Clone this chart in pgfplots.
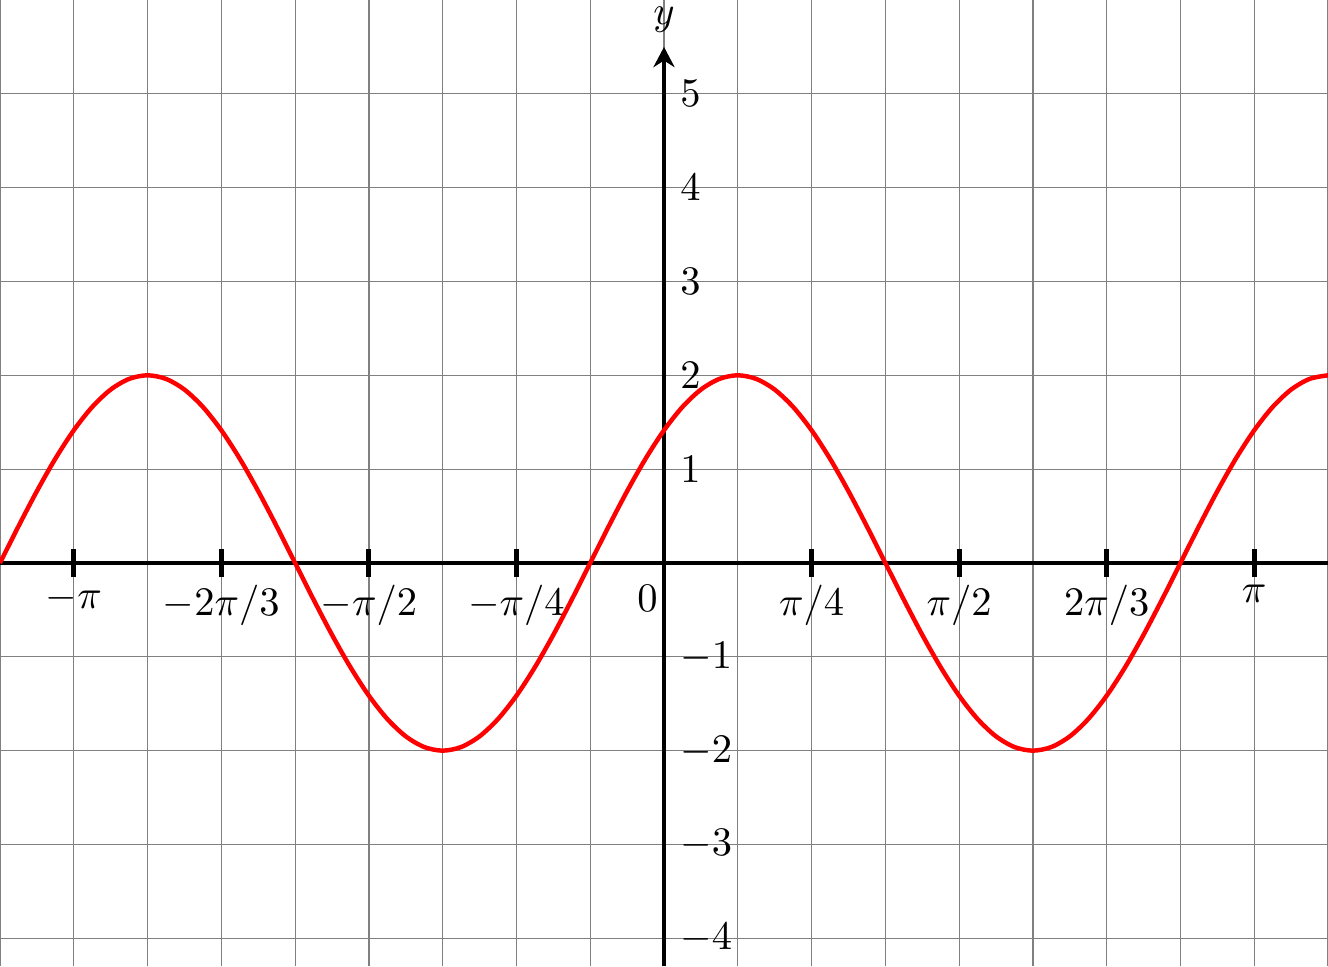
\documentclass[border=0pt]{standalone}
\usepackage{pgfplots}
\pgfplotsset{compat=1.18}
\usetikzlibrary{arrows.meta}

\begin{document}
\begin{tikzpicture}
\begin{axis}[
  x=36.42pt, y=23.16pt,
  xmin=-4.5, xmax=4.5, ymin=-4.3, ymax=6,
  axis lines=middle,
  axis line style={line width=1.2pt, black},
  x axis line style={-},
  y axis line style={-{Stealth[length=5pt,width=5.2pt]}, shorten >=11.58pt},
  xtick={-4,-3,-2,-1,0,1,2,3,4},
  xticklabels={$-\pi$,$-2\pi/3$,$-\pi/2$,$-\pi/4$,\makebox[0pt][r]{\raisebox{1pt}{$0$}\hspace{1.6pt}},$\pi/4$,$\pi/2$,$2\pi/3$,$\pi$},
  hide obscured x ticks=false,
  ytick={-4,-3,-2,-1,1,2,3,4,5},
  minor xtick={-4.5,-3.5,...,4.5},
  tick align=center,
  major tick length=7pt,
  minor tick length=0pt,
  xtick style={line width=1.2pt, black},
  ytick style={draw=none},
  xticklabel style={yshift=1.6pt},
  yticklabel style={anchor=west, xshift=4pt},
  grid=both,
  major grid style={gray, line width=0.3pt},
  minor grid style={gray, line width=0.3pt},
  ylabel={$y$},
  ylabel style={at={(axis cs:0,5.79)}, anchor=center, inner sep=0pt},
  clip=false,
]
\addplot[red, line width=1.1pt, smooth] coordinates {
(-4.5,0) (-4.375,0.3902) (-4.25,0.7654) (-4.125,1.1111) (-4,1.4142) (-3.875,1.6629) (-3.75,1.8478) (-3.625,1.9616)
(-3.5,2) (-3.375,1.9616) (-3.25,1.8478) (-3.125,1.6629) (-3,1.4142) (-2.875,1.1111) (-2.75,0.7654) (-2.625,0.3902)
(-2.5,0) (-2.375,-0.3902) (-2.25,-0.7654) (-2.125,-1.1111) (-2,-1.4142) (-1.875,-1.6629) (-1.75,-1.8478) (-1.625,-1.9616)
(-1.5,-2) (-1.375,-1.9616) (-1.25,-1.8478) (-1.125,-1.6629) (-1,-1.4142) (-0.875,-1.1111) (-0.75,-0.7654) (-0.625,-0.3902)
(-0.5,0) (-0.375,0.3902) (-0.25,0.7654) (-0.125,1.1111) (0,1.4142) (0.125,1.6629) (0.25,1.8478) (0.375,1.9616)
(0.5,2) (0.625,1.9616) (0.75,1.8478) (0.875,1.6629) (1,1.4142) (1.125,1.1111) (1.25,0.7654) (1.375,0.3902)
(1.5,0) (1.625,-0.3902) (1.75,-0.7654) (1.875,-1.1111) (2,-1.4142) (2.125,-1.6629) (2.25,-1.8478) (2.375,-1.9616)
(2.5,-2) (2.625,-1.9616) (2.75,-1.8478) (2.875,-1.6629) (3,-1.4142) (3.125,-1.1111) (3.25,-0.7654) (3.375,-0.3902)
(3.5,0) (3.625,0.3902) (3.75,0.7654) (3.875,1.1111) (4,1.4142) (4.125,1.6629) (4.25,1.8478) (4.375,1.9616) (4.5,2)
};
\coordinate (sw) at (rel axis cs:0,0);
\coordinate (ne) at (rel axis cs:1,1);
\end{axis}
\pgfresetboundingbox
\useasboundingbox (sw) rectangle (ne);
\end{tikzpicture}
\end{document}
